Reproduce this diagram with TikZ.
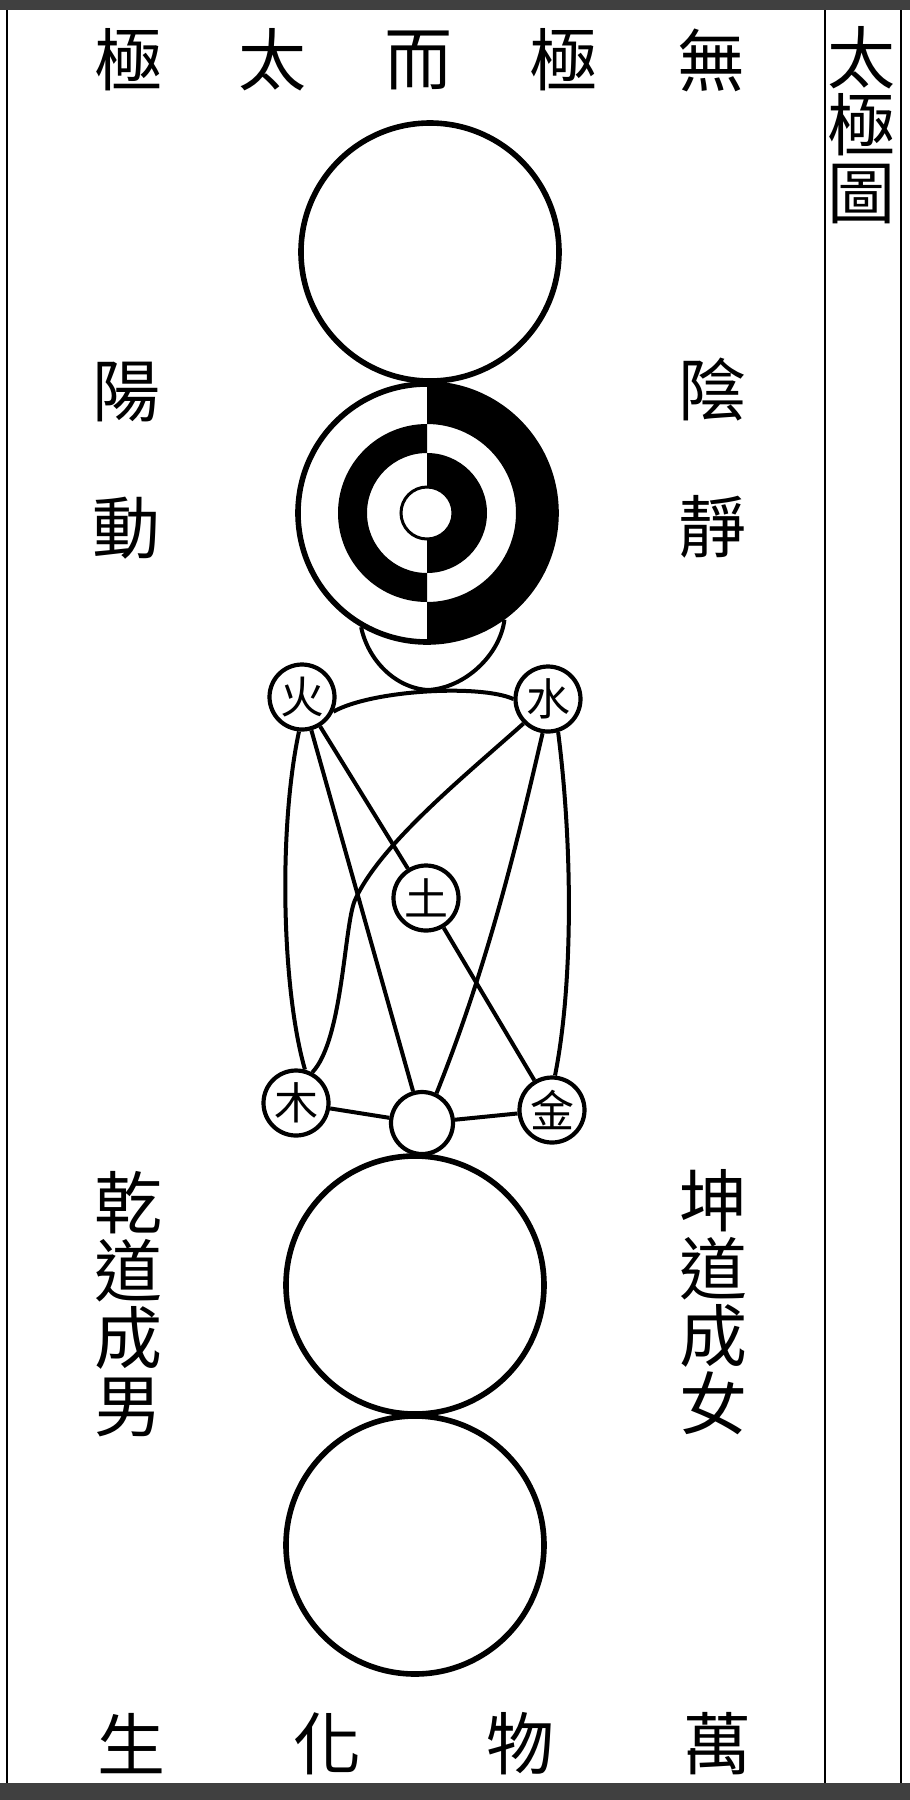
\documentclass[tikz,border=0pt]{standalone}
\usepackage{fontspec}
\newfontfamily\cjk{Noto Sans CJK TC}

\begin{document}
\begin{tikzpicture}[x=0.5pt, y=0.5pt, yscale=-1,
        zi/.style={font={\cjk\fontsize{34}{33.8}\selectfont}, inner sep=0pt, align=center},
        ring/.style={draw, circle, line width=2.8pt, minimum size=129pt, inner sep=0pt},
        elem/.style={draw, circle, line width=2.1pt, minimum size=32.5pt, inner sep=0pt,
            font={\cjk\fontsize{22}{22}\selectfont}},
        link/.style={line width=2pt}]
    \useasboundingbox (0,0) rectangle (910,1800);

    % frame of the page
    \fill[black!75] (0,0) rectangle (910,10);
    \fill[black!75] (0,1783) rectangle (910,1800);
    \draw[line width=1pt] (7,10) -- (7,1783);
    \draw[line width=1pt] (825,10) -- (825,1783);
    \draw[line width=1pt] (901,10) -- (901,1783);

    % texts
    \node[zi] (t1) at (711,60) {無};
    \node[zi] (t2) at (563,60) {極};
    \node[zi] (t3) at (418,60) {而};
    \node[zi] (t4) at (272,60) {太};
    \node[zi] (t5) at (128,60) {極};
    \node[zi] (title) at (861,125) {太\\極\\圖};

    \node[zi] (yang) at (126,392) {陽};
    \node[zi] (dong) at (126,528) {動};
    \node[zi] (yin) at (712,390) {陰};
    \node[zi] (jing) at (712,527) {靜};
    \node[zi] (nan) at (128,1304) {乾\\道\\成\\男};
    \node[zi] (nv) at (713,1302) {坤\\道\\成\\女};

    \node[zi] (b1) at (717,1744) {萬};
    \node[zi] (b2) at (520,1744) {物};
    \node[zi] (b3) at (327,1744) {化};
    \node[zi] (b4) at (131,1744) {生};

    % big circles
    \node[ring] (wuji) at (430,252) {};
    \node[ring] (yy) at (427,513) {};
    \node[ring] (qian) at (415,1285) {};
    \node[ring] (wanwu) at (415,1545) {};

    % yin and yang rings
    \begin{scope}[shift={(427,513)}]
        \fill (90:89) arc[start angle=90, end angle=270, radius=89]
            -- (270:60) arc[start angle=270, end angle=90, radius=60] -- cycle;
        \fill (-90:60) arc[start angle=-90, end angle=90, radius=60]
            -- (90:26) arc[start angle=90, end angle=-90, radius=26] -- cycle;
        \fill (-90:129) arc[start angle=-90, end angle=90, radius=129]
            -- (90:89) arc[start angle=90, end angle=-90, radius=89] -- cycle;
        \draw[line width=1.5pt] (0,0) circle[radius=26];
    \end{scope}

    % five elements
    \node[elem] (huo) at (302,697) {火};
    \node[elem] (shui) at (548,699) {水};
    \node[elem] (tu) at (426,898) {土};
    \node[elem] (mu) at (296,1103) {木};
    \node[elem] (jin) at (552,1110) {金};
    \node[elem, minimum size=31pt] (miao) at (422,1123) {};

    \coordinate (jiao) at (428,690);
    \draw[link] (yy.240) .. controls (368,660) and (395,688) .. (jiao);
    \draw[link] (yy.306) .. controls (500,655) and (465,688) .. (jiao);
    \draw[link] (huo.-25) .. controls (372,690) and (480,684) .. (shui.west);

    \draw[link] (huo.265) .. controls (278,830) and (282,990) .. (mu.75);
    \draw[link] (shui.225) .. controls (460,780) and (380,845) .. (355,900)
        .. controls (344,925) and (343,1040) .. (mu.62);
    \draw[link] (huo) -- (tu);
    \draw[link] (huo) -- (miao);
    \draw[link] (shui.-99) .. controls (520,830) and (490,960) .. (miao.64);
    \draw[link] (shui.-73) .. controls (572,840) and (574,980) .. (jin.85);
    \draw[link] (tu) -- (jin);
    \draw[link] (mu) -- (miao);
    \draw[link] (jin) -- (miao);
\end{tikzpicture}
\end{document}
